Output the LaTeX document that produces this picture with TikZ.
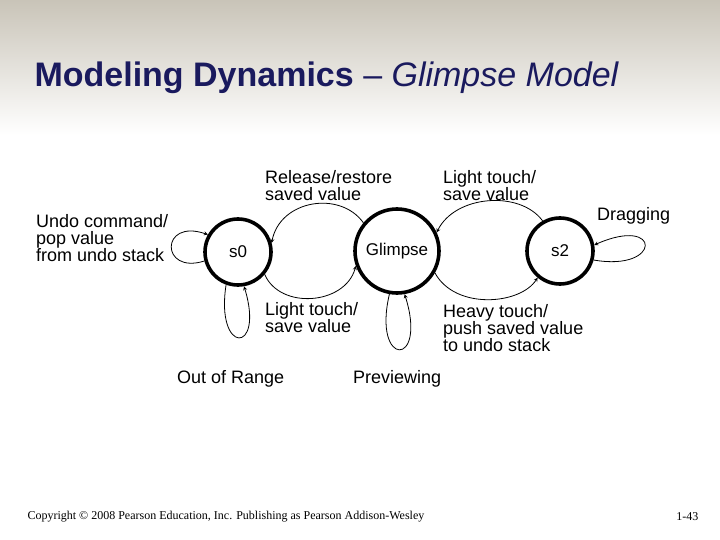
\documentclass[tikz,border=0pt]{standalone}
\usepackage{fontspec}
\setmainfont{Liberation Sans}
\newfontfamily\footserif{Liberation Serif}
\definecolor{titleblue}{HTML}{1A1A5E}
\definecolor{topgrey}{HTML}{C9C4B8}
\tikzset{state/.style={circle, draw, line width=3.6pt, inner sep=0pt, font=\fontsize{17}{19}\selectfont}}
\tikzset{trans/.style={line width=0.8pt, -stealth}}
\tikzset{lbl/.style={align=left, anchor=north west, inner sep=0pt, font=\fontsize{18}{17}\selectfont}}
\begin{document}
\begin{tikzpicture}[x=1pt, y=-1pt]
		% Background
		\useasboundingbox (0,0) rectangle (720,540);
		\shade[top color=topgrey, bottom color=white] (0,0) rectangle (720,135);
		\node[anchor=west, text=titleblue, font=\fontsize{34}{36}\selectfont] (title) at (31,78) {\textbf{Modeling Dynamics} -- \textit{Glimpse Model}};

		% States
		\node[state, minimum size=66pt] (s0) at (238,252) {s0};
		\node[state, minimum size=84pt] (glimpse) at (397,251) {Glimpse};
		\node[state, minimum size=66pt] (s2) at (560,251) {s2};

		% Transitions
		\draw[trans] (glimpse.140) .. controls (340,190) and (280,200) .. (s0.15);
		\draw[trans] (s0.-40) .. controls (280,310) and (345,305) .. (glimpse.200);
		\draw[trans] (s2.120) .. controls (520,190) and (455,195) .. (glimpse.25);
		\draw[trans] (glimpse.-30) .. controls (455,310) and (520,305) .. (s2.-130);
		%% Loops
		\draw[trans] (s0.195) .. controls (160,275) and (160,218) .. (s0.150);
		\draw[trans] (s0.-110) .. controls (215,355) and (265,355) .. (s0.-80);
		\draw[trans] (glimpse.-100) .. controls (372,368) and (428,368) .. (glimpse.-80);
		\draw[trans] (s2.-15) .. controls (662,272) and (662,215) .. (s2.10);

		% Labels
		\node[lbl] (l1) at (265,170) {Release/restore\\saved value};
		\node[lbl] (l2) at (443,170) {Light touch/\\save value};
		\node[lbl] (l3) at (597,207) {Dragging};
		\node[lbl] (l4) at (36,214) {Undo command/\\pop value\\from undo stack};
		\node[lbl] (l5) at (265,302) {Light touch/\\save value};
		\node[lbl] (l6) at (443,304) {Heavy touch/\\push saved value\\to undo stack};
		\node[lbl] (l7) at (177,370) {Out of Range};
		\node[lbl] (l8) at (353,370) {Previewing};

		% Footer
		\node[anchor=west, font=\footserif\fontsize{12}{13}\selectfont] (copy) at (24,517) {Copyright © 2008 Pearson Education, Inc. Publishing as Pearson Addison-Wesley};
		\node[anchor=east, font=\footserif\fontsize{12}{13}\selectfont] (page) at (702,517) {1-43};
	\end{tikzpicture}
\end{document}
